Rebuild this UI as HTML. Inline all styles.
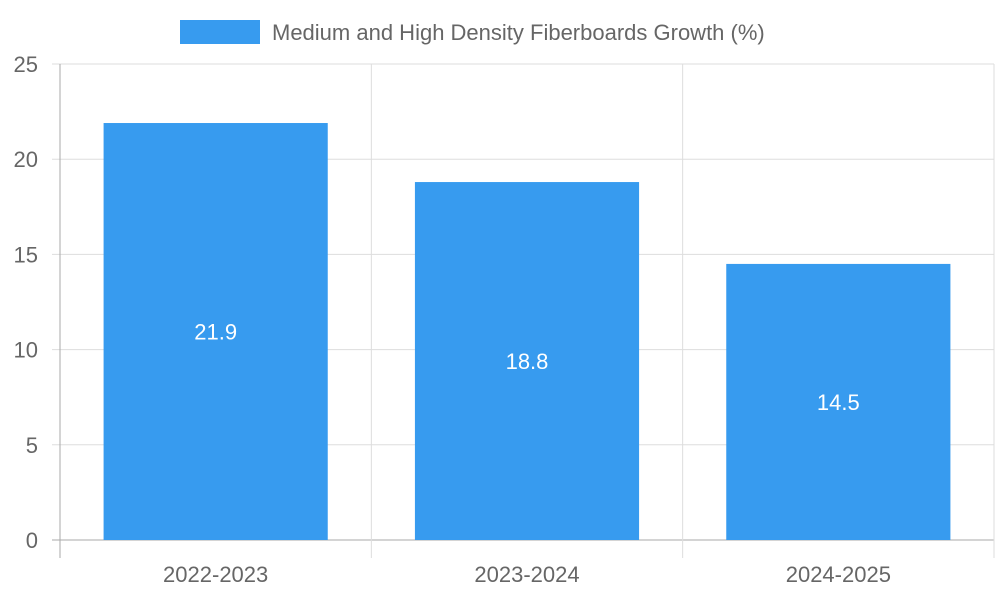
<!DOCTYPE html>
<html><head><meta charset="utf-8"><style>
html,body{margin:0;padding:0;background:#fff;}
svg{display:block;font-family:"Liberation Sans",sans-serif;}
</style></head><body>
<svg id="chart" width="1000" height="600">
<g id="grid"></g>
<g id="bars"></g>
<g id="axes"></g>
<g>
<rect x="180" y="20" width="80" height="24" fill="#379bef"/>
<text x="272" y="40" font-size="22" fill="#666">Medium and High Density Fiberboards Growth (%)</text>
</g>
</svg>
<script>
const categories = ["2022-2023","2023-2024","2024-2025"];
const values = [21.9,18.8,14.5];
const yTicks = [0,5,10,15,20,25];
const NS="http://www.w3.org/2000/svg";
const L=60,R=994,T=64,B=540,yMax=25;
const y=v=>B-(v/yMax)*(B-T);
const bw=(R-L)/categories.length;
const x=i=>L+bw*i;
function mk(tag,attrs,parent,text){const e=document.createElementNS(NS,tag);for(const k in attrs)e.setAttribute(k,attrs[k]);if(text!==undefined)e.textContent=text;parent.appendChild(e);return e;}
const grid=document.getElementById('grid'),bars=document.getElementById('bars'),axes=document.getElementById('axes');
yTicks.forEach(t=>{
  const l=mk('line',{x1:52,x2:R,y1:y(t),y2:y(t),stroke:t===0?'#aaa':'#ddd','stroke-width':1},grid);
  
  
  const tx=mk('text',{x:38,y:y(t)+8,'text-anchor':'end','font-size':22,fill:'#666'},axes,String(t));
  
  
});
for(let i=0;i<=categories.length;i++){
  const l=mk('line',{x1:x(i),x2:x(i),y1:T,y2:558,stroke:i===0?'#aaa':'#ddd','stroke-width':1},grid);
  
  
}
categories.forEach((c,i)=>{
  const cx=x(i)+bw/2,w=bw*0.72;
  const r=mk('rect',{x:cx-w/2,y:y(values[i]),width:w,height:B-y(values[i]),fill:'#379bef'},bars);
  
  
  const v=mk('text',{x:cx,y:(y(values[i])+B)/2+8,'text-anchor':'middle','font-size':22,fill:'#fff'},bars,values[i].toFixed(1));
  
  
  const t=mk('text',{x:cx,y:582,'text-anchor':'middle','font-size':22,fill:'#666'},axes,c);
  
  
});
</script>
</body></html>
